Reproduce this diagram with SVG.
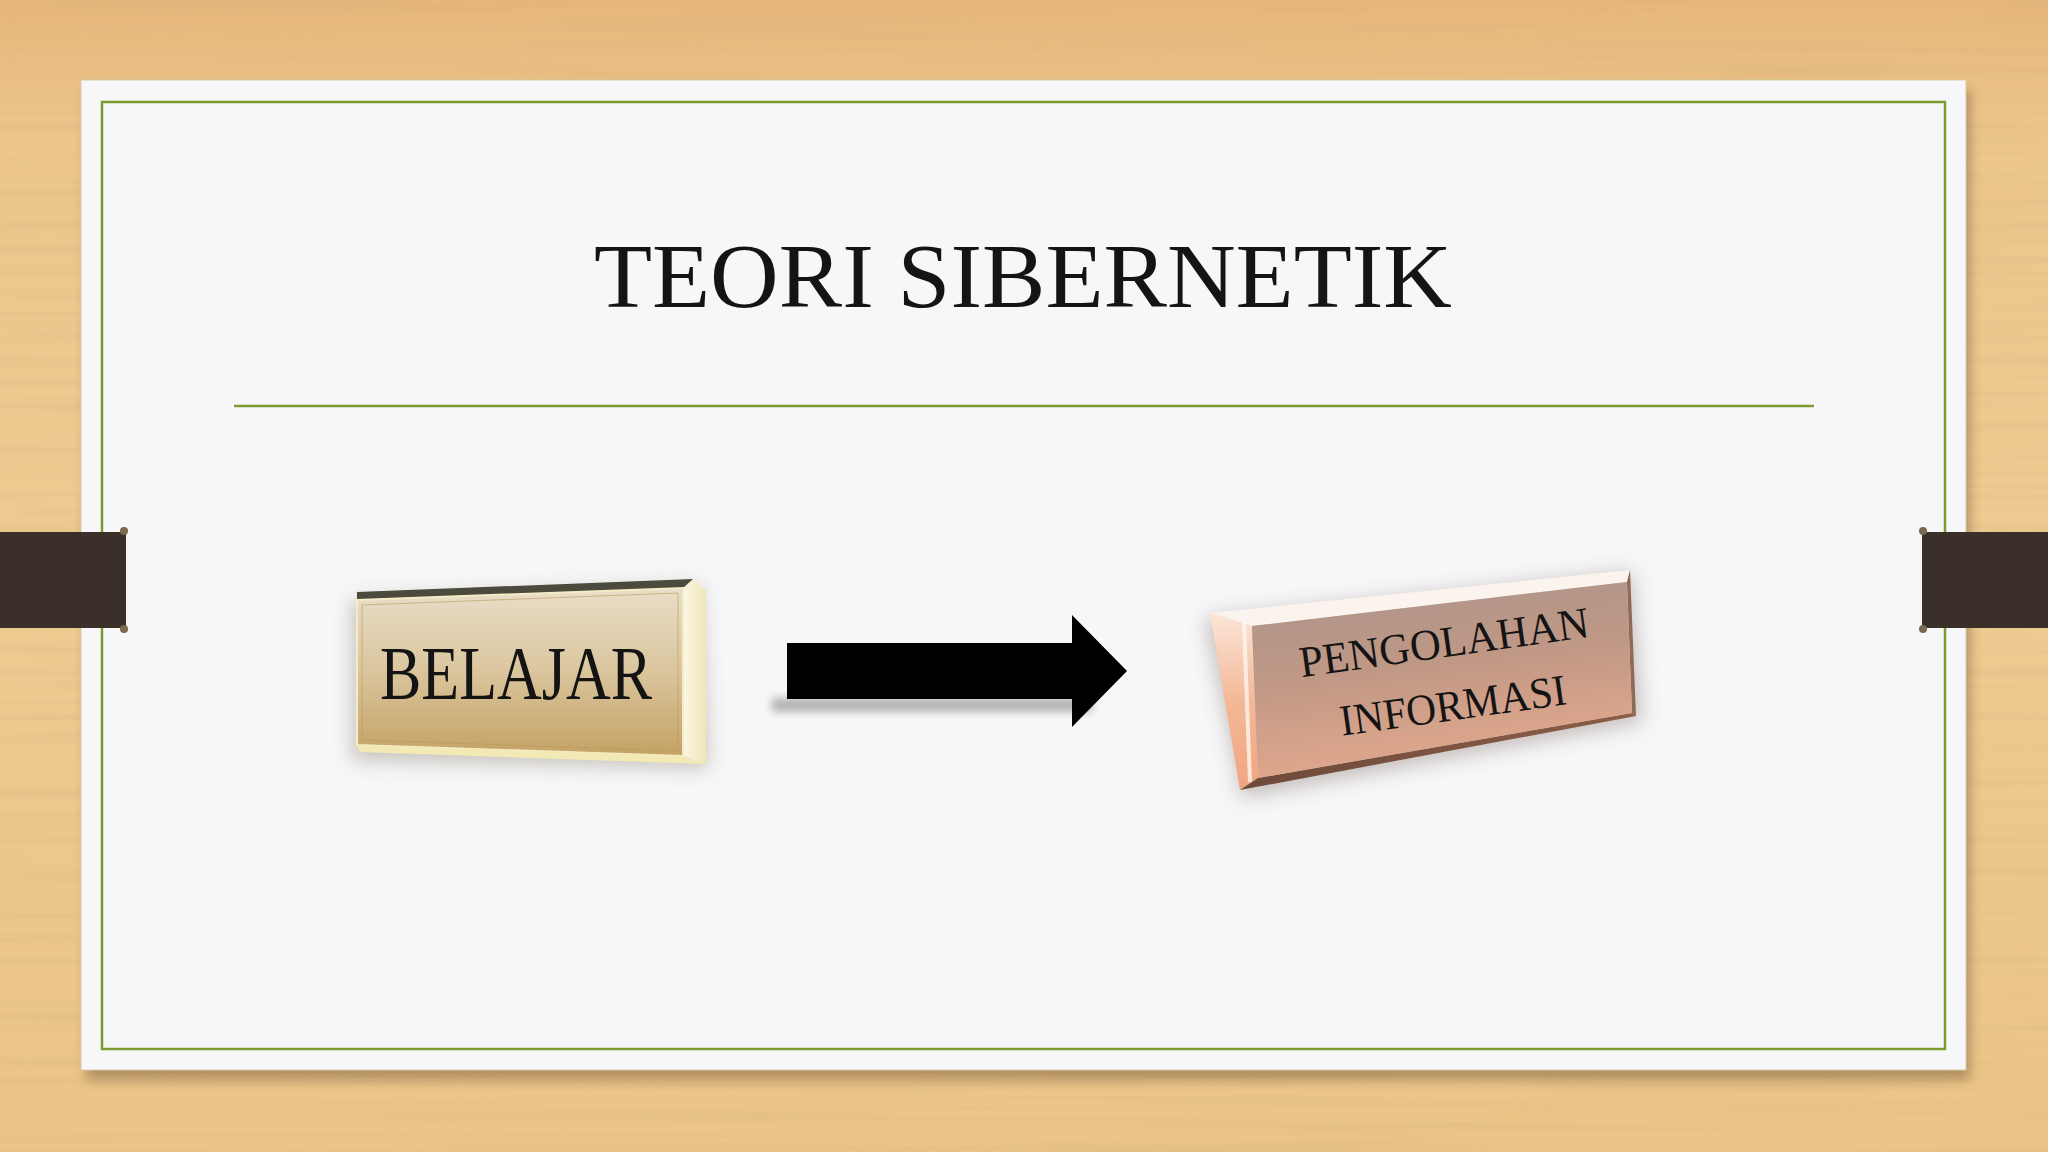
<svg xmlns="http://www.w3.org/2000/svg" width="2048" height="1152" viewBox="0 0 2048 1152">
  <defs>
    <linearGradient id="wood" x1="0" y1="0" x2="0" y2="1">
      <stop offset="0" stop-color="#e7b67a"/>
      <stop offset="0.12" stop-color="#ecc68c"/>
      <stop offset="0.5" stop-color="#eecb92"/>
      <stop offset="1" stop-color="#ebc487"/>
    </linearGradient>
    <filter id="grain" x="0" y="0" width="1" height="1">
      <feTurbulence type="fractalNoise" baseFrequency="0.002 0.09" numOctaves="3" seed="4"/>
      <feColorMatrix type="matrix" values="0 0 0 0 0.6  0 0 0 0 0.42  0 0 0 0 0.2  0 0 0 -1.6 0.9"/>
    </filter>
    <filter id="blur6" x="-10%" y="-10%" width="120%" height="130%">
      <feGaussianBlur stdDeviation="6"/>
    </filter>
    <filter id="blur4" x="-20%" y="-50%" width="140%" height="200%">
      <feGaussianBlur stdDeviation="4"/>
    </filter>
    <filter id="blur10" x="-20%" y="-30%" width="140%" height="160%">
      <feGaussianBlur stdDeviation="10"/>
    </filter>
    <linearGradient id="goldFace" x1="0" y1="0" x2="0" y2="1">
      <stop offset="0" stop-color="#e9dec8"/>
      <stop offset="0.45" stop-color="#dcc8a2"/>
      <stop offset="1" stop-color="#c4a265"/>
    </linearGradient>
    <linearGradient id="creamSide" x1="0" y1="0" x2="1" y2="0">
      <stop offset="0" stop-color="#fbf7e4"/>
      <stop offset="1" stop-color="#efe6b8"/>
    </linearGradient>
    <linearGradient id="pinkFace" x1="0" y1="0" x2="0.25" y2="1">
      <stop offset="0" stop-color="#ab948a"/>
      <stop offset="0.5" stop-color="#c09886"/>
      <stop offset="1" stop-color="#e2a88c"/>
    </linearGradient>
    <linearGradient id="pinkSide" x1="0" y1="0" x2="0" y2="1">
      <stop offset="0" stop-color="#fbe5d8"/>
      <stop offset="0.5" stop-color="#f3b896"/>
      <stop offset="1" stop-color="#f0a582"/>
    </linearGradient>
    <linearGradient id="pinkBottom" x1="0" y1="0" x2="1" y2="0">
      <stop offset="0" stop-color="#6e4a3a"/>
      <stop offset="1" stop-color="#8a5e48"/>
    </linearGradient>
    <style>
      .serif { font-family: "Liberation Serif", "DejaVu Serif", serif; fill: #141414; }
      .tab { fill: #3a3029; }
      .knob { fill: #7a6a4c; }
    </style>
  </defs>

  <!-- wood background -->
  <rect x="0" y="0" width="2048" height="1152" fill="url(#wood)"/>
  <rect x="0" y="0" width="2048" height="1152" filter="url(#grain)" opacity="0.35"/>

  <!-- paper -->
  <g id="paper">
    <rect x="86" y="90" width="1884" height="990" fill="#6b5030" opacity="0.45" filter="url(#blur6)"/>
    <rect x="81" y="80" width="1885" height="990" fill="#f7f7f9" stroke="#d8c9a6" stroke-width="1"/>
    <rect x="102" y="102" width="1843" height="947" fill="none" stroke="#7b9a2c" stroke-width="2.5"/>
  </g>

  <!-- tabs -->
  <g id="tab-left">
    <rect class="tab" x="0" y="532" width="126" height="96"/>
    <ellipse class="knob" cx="124" cy="531" rx="4" ry="4"/>
    <ellipse class="knob" cx="124" cy="629" rx="4" ry="4"/>
  </g>
  <g id="tab-right">
    <rect class="tab" x="1922" y="532" width="126" height="96"/>
    <ellipse class="knob" cx="1923" cy="531" rx="4" ry="4"/>
    <ellipse class="knob" cx="1923" cy="629" rx="4" ry="4"/>
  </g>

  <!-- title -->
  <g id="title">
    <text class="serif" x="1023" y="307" font-size="92" text-anchor="middle" textLength="858" lengthAdjust="spacingAndGlyphs" fill="#262626">TEORI SIBERNETIK</text>
    <line x1="234" y1="406" x2="1814" y2="406" stroke="#7f9a30" stroke-width="2.5"/>
  </g>

  <!-- BELAJAR node -->
  <g id="node-belajar">
    <polygon points="352,600 700,586 708,768 352,760" fill="#8a8270" opacity="0.45" filter="url(#blur10)"/>
    <polygon points="683,586 693,579 706,590 706,764 683,756" fill="url(#creamSide)"/>
    <polygon points="357,592 693,579 683,588 357,600" fill="#4b4a3c"/>
    <polygon points="357,600 683,588 683,756 357,745" fill="url(#goldFace)" stroke="#f4ecc8" stroke-width="2"/>
    <polygon points="362,605 678,593 678,751 362,740" fill="none" stroke="#b89a5c" stroke-width="1" opacity="0.6"/>
    <polygon points="357,745 683,756 706,764 360,752" fill="#f3e9b4"/>
    <text class="serif" x="380" y="699" font-size="76" textLength="272" lengthAdjust="spacingAndGlyphs">BELAJAR</text>
  </g>

  <!-- connector -->
  <g id="connectors">
    <rect x="772" y="698" width="320" height="14" fill="#7a7a7a" opacity="0.55" filter="url(#blur4)"/>
    <polygon points="787,643 1072,643 1072,615 1127,671 1072,727 1072,699 787,699" fill="#000"/>
  </g>

  <!-- PENGOLAHAN INFORMASI node -->
  <g id="node-pengolahan">
    <polygon points="1205,618 1632,572 1642,722 1242,798" fill="#8a7a72" opacity="0.45" filter="url(#blur10)"/>
    <polygon points="1210,613 1252,626 1258,778 1240,790" fill="url(#pinkSide)"/>
    <line x1="1244" y1="623" x2="1250" y2="782" stroke="#fff6ee" stroke-width="4" opacity="0.8"/>
    <polygon points="1210,613 1630,570 1627,582 1252,626" fill="#fbf4ee"/>
    <polygon points="1630,570 1636,716 1632,713 1627,582" fill="#8e6a58"/>
    <polygon points="1258,778 1632,713 1636,716 1240,790" fill="url(#pinkBottom)"/>
    <polygon points="1252,626 1627,582 1632,713 1258,778" fill="url(#pinkFace)"/>
    <text class="serif" x="1446" y="657" font-size="44" text-anchor="middle" textLength="292" lengthAdjust="spacingAndGlyphs" transform="rotate(-8 1446 657)">PENGOLAHAN</text>
    <text class="serif" x="1455" y="720" font-size="44" text-anchor="middle" textLength="228" lengthAdjust="spacingAndGlyphs" transform="rotate(-8 1455 720)">INFORMASI</text>
  </g>
</svg>
